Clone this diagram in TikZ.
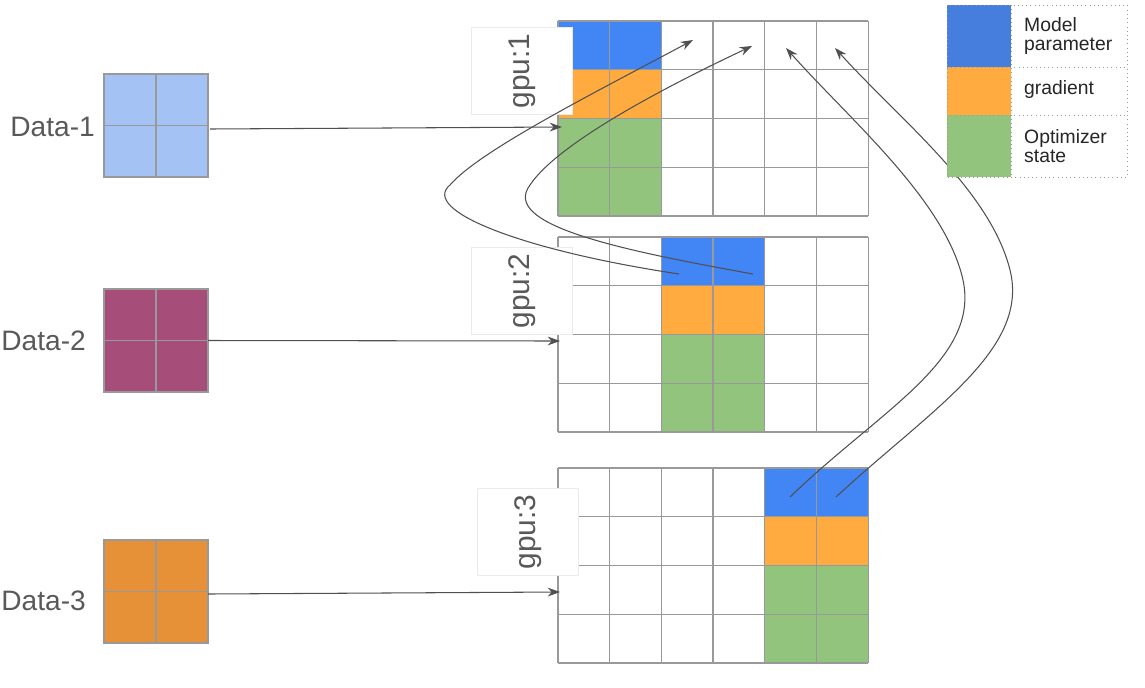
\documentclass[tikz,border=0pt]{standalone}
\usepackage{fontspec}
\setmainfont{Liberation Sans}
\usetikzlibrary{arrows.meta}
\definecolor{mblue}{HTML}{4285F4}
\definecolor{morange}{HTML}{FFAB40}
\definecolor{mgreen}{HTML}{93C47D}
\definecolor{lblue}{HTML}{A4C2F4}
\definecolor{plum}{HTML}{A64D79}
\definecolor{dorange}{HTML}{E69138}
\definecolor{gl}{HTML}{999999}
\definecolor{tx}{HTML}{595959}
\begin{document}
\begin{tikzpicture}[x=0.02cm,y=-0.02cm,
  gridl/.style={draw=gl,line width=0.6pt},
  conn/.style={draw=tx!90!black,line width=0.6pt,-{Stealth[length=7pt,width=5pt]}},
  lab/.style={text=tx,font=\fontsize{16}{18}\selectfont},
  gpulab/.style={draw=black!8,fill=white,minimum width=1.16cm,minimum height=2.02cm,text=tx,font=\fontsize{17}{19}\selectfont},
  leg/.style={text=black!85,font=\fontsize{11}{13}\selectfont,align=left,anchor=west}]
\useasboundingbox (0,0) rectangle (1145,687);
% gpu grids
\foreach \y/\c in {21/0,237/2,468/4}{
  \fill[mblue] ({558+\c*51.67},\y) rectangle ({558+(\c+2)*51.67},\y+48.75);
  \fill[morange] ({558+\c*51.67},\y+48.75) rectangle ({558+(\c+2)*51.67},\y+97.5);
  \fill[mgreen] ({558+\c*51.67},\y+97.5) rectangle ({558+(\c+2)*51.67},\y+195);
  \foreach \i in {0,...,6} \draw[gridl] ({558+\i*51.67},\y) -- ({558+\i*51.67},\y+195);
  \foreach \j in {0,...,4} \draw[gridl] (558,{\y+\j*48.75}) -- (868,{\y+\j*48.75});
}
\node[gpulab,rotate=90] (g1) at (522,71) {gpu:1};
\node[gpulab,rotate=90] (g2) at (522,291) {gpu:2};
\node[gpulab,rotate=90] (g3) at (528,532) {gpu:3};
% data boxes
\foreach \n/\y/\c in {1/74/lblue,2/289/plum,3/540/dorange}{
  \fill[\c] (104,\y) rectangle (208,\y+103);
  \draw[gridl] (104,\y) rectangle (208,\y+103);
  \draw[gridl] (156,\y) -- (156,\y+103) (104,\y+51.5) -- (208,\y+51.5);
  \coordinate (d\n) at (208,\y+51.5);
}
\node[lab,anchor=east] (t1) at (101,127) {Data-1};
\node[lab,anchor=east] (t2) at (92,341) {Data-2};
\node[lab,anchor=east] (t3) at (92,601) {Data-3};
\coordinate (e1) at (562,127);
\coordinate (e2) at (560,341);
\coordinate (e3) at (560,592);
\draw[conn] (210,129) -- (e1);
\draw[conn] (d2) -- (e2);
\draw[conn] (208,594) -- (e3);
% curves
\coordinate (a1) at (679,274); \coordinate (b1) at (693,40);
\coordinate (a2) at (753,274); \coordinate (b2) at (752,46);
\coordinate (a3) at (790,497); \coordinate (b3) at (786,48);
\coordinate (a4) at (836,497); \coordinate (b4) at (835,48);
\draw[conn] (a1) .. controls (520,250) and (420,210) .. (450,185) .. controls (480,150) and (600,90) .. (b1);
\draw[conn] (a2) .. controls (620,250) and (500,225) .. (530,185) .. controls (560,140) and (680,80) .. (b2);
\draw[conn] (a3) .. controls (880,410) and (980,360) .. (963,280) .. controls (945,200) and (850,120) .. (b3);
\draw[conn] (a4) .. controls (930,410) and (1030,350) .. (1010,270) .. controls (990,190) and (900,120) .. (b4);
% legend
\fill[white] (947,5) rectangle (1127,177);
\fill[mblue!90!black!95] (947,5) rectangle (1011,67);
\fill[morange] (947,67) rectangle (1011,115);
\fill[mgreen] (947,115) rectangle (1011,177);
\draw[gl,dotted] (947,5) rectangle (1127,177) (947,67) -- (1127,67) (947,115) -- (1127,115) (1011,5) -- (1011,177);
\node[leg] (l1) at (1018,36) {Model\\[-2pt]parameter};
\node[leg] (l2) at (1018,89) {gradient};
\node[leg] (l3) at (1018,146) {Optimizer\\[-2pt]state};
\end{tikzpicture}
\end{document}
